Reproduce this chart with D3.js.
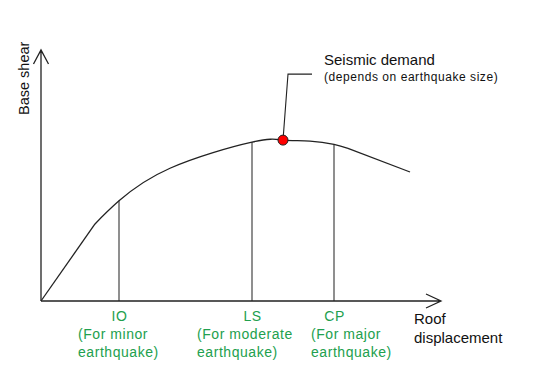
<!DOCTYPE html>
<meta charset="utf-8">
<style>
    body { margin: 0; background: #fff; }
    text { font-family: "Liberation Sans", Arial, sans-serif; }
    .curve { fill: none; stroke: #222; stroke-width: 1.3px; }
    .axis-line { fill: none; stroke: #222; stroke-width: 1.3px; }
    .marker { stroke: #333; stroke-width: 1.1px; }
    .green { fill: #22a04e; font-size: 14px; letter-spacing: 0.55px; }
</style>
<svg width="558" height="379"></svg>
<script src="https://cdn.jsdelivr.net/npm/d3@7"></script>
<script>

    // pushover curve (arbitrary units): elastic line, smooth hardening part, softening line
    var displacement = [0, 13.5, 19.5, 32.25, 52.75, 60.5, 67.25, 73.25, 76.75, 92.25];
    var shear        = [0, 30.7, 39.9, 52.9, 63.3, 64.1, 63.7, 62.4, 60.8, 51.4];

    // performance levels
    var levels     = ["IO", "LS", "CP"];
    var levelX     = [19.5, 52.75, 73.25];
    var levelLine2 = ["(For minor", "(For moderate", "(For major"];
    var levelLine3 = ["earthquake)", "earthquake)", "earthquake)"];

    var demandX = 60.5;
    var demandTitle = "Seismic demand";
    var demandNote = "(depends on earthquake size)";

    var svg = d3.select("svg");

    var x = d3.scaleLinear().domain([0, 100]).range([41, 441]),
        y = d3.scaleLinear().domain([0, 100]).range([301, 50]);

    var pts = displacement.map(function(d, i) { return {x: d, y: shear[i]}; });
    var last = pts.length - 1;
    function shearAt(v) {
        return pts.filter(function(p) { return p.x === v; })[0].y;
    }

    // vertical markers
    svg.selectAll(".marker")
        .data(levelX)
        .enter().append("line")
        .attr("class", "marker")
        .attr("x1", function(d) { return x(d); })
        .attr("x2", function(d) { return x(d); })
        .attr("y1", y(0))
        .attr("y2", function(d) { return y(shearAt(d)); });

    var straight = d3.line()
        .x(function(d) { return x(d.x); })
        .y(function(d) { return y(d.y); });
    var smooth = d3.line()
        .curve(d3.curveNatural)
        .x(function(d) { return x(d.x); })
        .y(function(d) { return y(d.y); });

    svg.append("path")
        .attr("class", "curve")
        .attr("d", straight(pts.slice(0, 2)));
    svg.append("path")
        .attr("class", "curve")
        .attr("d", smooth(pts.slice(1, last)));
    svg.append("path")
        .attr("class", "curve")
        .attr("d", straight(pts.slice(last - 1)));

    // axes with open arrow heads
    var x0 = x(0), y0 = y(0), xEnd = x(100), yEnd = y(100);
    svg.append("path").attr("class", "axis-line")
        .attr("d", "M" + x0 + "," + y0 + "V" + yEnd + "M" + (x0 - 7.5) + "," + (yEnd + 14) + "L" + x0 + "," + yEnd + "L" + (x0 + 7.5) + "," + (yEnd + 14));
    svg.append("path").attr("class", "axis-line")
        .attr("d", "M" + x0 + "," + y0 + "H" + xEnd + "M" + (xEnd - 15) + "," + (y0 - 7) + "L" + xEnd + "," + y0 + "L" + (xEnd - 15) + "," + (y0 + 7));

    svg.append("text")
        .attr("transform", "translate(29," + 115 + ") rotate(-90)")
        .style("font-size", "14.5px")
        .attr("fill", "#111")
        .text("Base shear");

    svg.append("text")
        .attr("x", 414).attr("y", 324)
        .style("font-size", "15px")
        .attr("fill", "#111")
        .text("Roof");
    svg.append("text")
        .attr("x", 414).attr("y", 342.5)
        .style("font-size", "15px")
        .attr("fill", "#111")
        .text("displacement");

    // level labels
    var subOffset = [-41, -55, -23];
    var lab = svg.selectAll(".lab")
        .data(levels)
        .enter().append("g")
        .attr("class", "lab");
    lab.append("text")
        .attr("class", "green")
        .attr("text-anchor", "middle")
        .attr("x", function(d, i) { return x(levelX[i]) + 0.5; })
        .attr("y", 321)
        .text(function(d) { return d; });
    lab.append("text")
        .attr("class", "green")
        .attr("x", function(d, i) { return x(levelX[i]) + subOffset[i]; })
        .attr("y", 339)
        .text(function(d, i) { return levelLine2[i]; });
    lab.append("text")
        .attr("class", "green")
        .attr("x", function(d, i) { return x(levelX[i]) + subOffset[i]; })
        .attr("y", 357)
        .text(function(d, i) { return levelLine3[i]; });

    // seismic demand point + leader
    var dx = x(demandX), dy = y(shearAt(demandX));
    svg.append("path")
        .attr("fill", "none")
        .attr("stroke", "#222")
        .attr("stroke-width", 1.1)
        .attr("d", "M" + dx + "," + dy + "L" + (dx + 5) + "," + (dy - 66) + "H" + (dx + 29));
    svg.append("circle")
        .attr("cx", dx).attr("cy", dy).attr("r", 5)
        .attr("fill", "#f00")
        .attr("stroke", "#222")
        .attr("stroke-width", 1);

    svg.append("text")
        .attr("x", 324).attr("y", 65)
        .style("font-size", "15px")
        .attr("fill", "#111")
        .text(demandTitle);
    svg.append("text")
        .attr("x", 324).attr("y", 81)
        .style("font-size", "12px")
        .style("letter-spacing", "0.55px")
        .attr("fill", "#111")
        .text(demandNote);

</script>
